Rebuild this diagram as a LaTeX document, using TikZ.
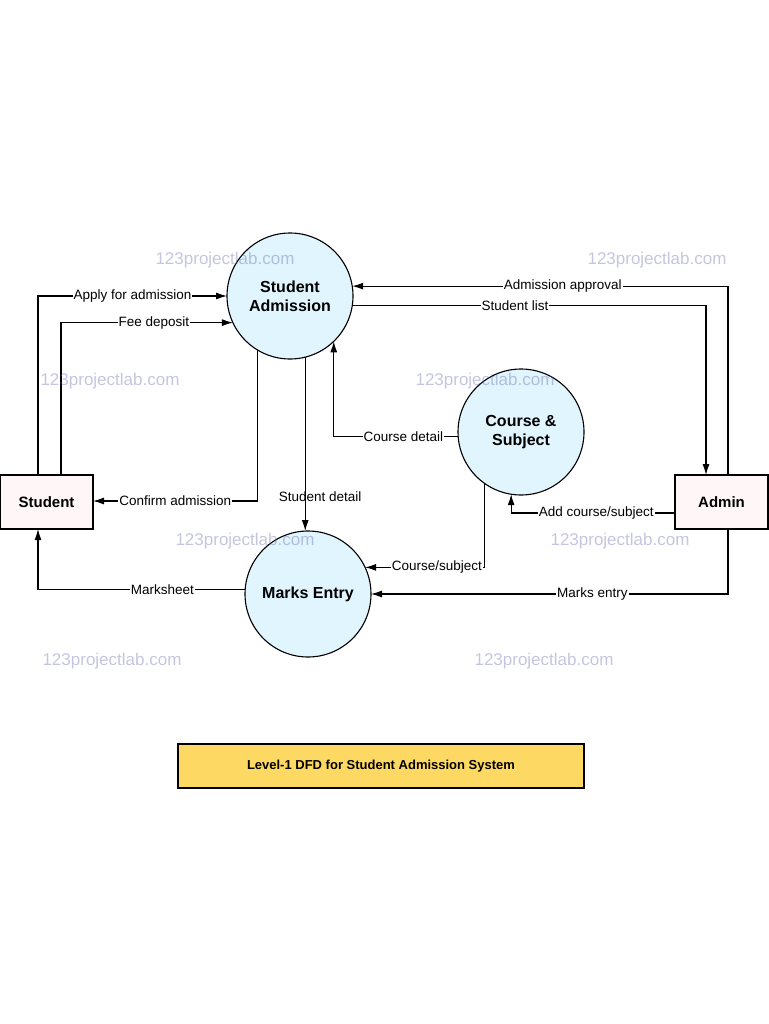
\documentclass[tikz,border=0pt]{standalone}
\usepackage{fontspec}
\setmainfont{Liberation Sans}
\usetikzlibrary{arrows.meta}
\begin{document}
\begin{tikzpicture}[x=1pt,y=-1pt,
  proc/.style={circle,draw,line width=1.1pt,fill=cyan!12,minimum size=126pt,inner sep=0,outer sep=0,font=\bfseries\fontsize{16}{19}\selectfont,align=center},
  ent/.style={draw,line width=1.1pt,fill=red!3,minimum width=93pt,minimum height=54pt,inner sep=0,outer sep=0,font=\bfseries\fontsize{15}{18}\selectfont},
  flow/.style={line width=1.1pt,-{Latex[length=11pt,width=7pt]}},
  lab/.style={fill=white,inner sep=1pt,font=\fontsize{13.5}{15}\selectfont},
  wm/.style={text=blue!30!gray,opacity=0.35,font=\fontsize{17}{19}\selectfont}]
\useasboundingbox (0,0) rectangle (768,1024);
\node[proc] (sa) at (290,296) {Student\\Admission};
\node[proc] (cs) at (521,432) {Course \&\\Subject};
\node[proc] (me) at (308,594) {Marks Entry};
\node[ent,anchor=north west] (st) at (0,475) {Student};
\node[ent,anchor=north east] (ad) at (768,475) {Admin};
\coordinate (s1) at (38,475);
\coordinate (s2) at (61,475);
\draw[flow] (s1) |- node[lab,pos=0.75]{Apply for admission} (sa.180);
\draw[flow] (s2) |- node[lab,pos=0.77]{Fee deposit} (sa.205);
\draw[flow] (sa.239.5) |- node[lab,pos=0.75]{Confirm admission} (st.east |- 0,501);
\draw[flow] (sa.284.7) -- node[lab,pos=0.8,right,xshift=-28pt,fill=none]{Student detail} (me.north -| sa.284.7);
\draw[flow] (cs.184) -| node[lab,pos=0.22]{Course detail} (sa.314.3);
\draw[flow] (ad.north -| 728,0) |- node[lab,pos=0.72]{Admission approval} (sa.9);
\draw[flow] (sa.351) -| node[lab,pos=0.23]{Student list} (ad.north -| 706,0);
\draw[flow] (ad.west |- 0,513) -| node[lab,pos=0.24]{Add course/subject} (cs.261.7);
\draw[flow] (cs.235.6) |- node[lab,pos=0.7]{Course/subject} (me.25.8);
\draw[flow] (ad.south -| 728,0) |- node[lab,pos=0.69]{Marks entry} (me.0);
\draw[flow] (me.176) -| node[lab,pos=0.2]{Marksheet} (st.south -| 38,0);
\node[draw,line width=1.1pt,fill=yellow!55!orange!60,minimum width=406pt,minimum height=44pt,font=\bfseries\fontsize{13}{15}\selectfont] (t) at (381,766) {Level-1 DFD for Student Admission System};
\foreach \x/\y in {225/260,110/381,485/381,657/260,245/541,620/541,112/661,544/661}
  \node[wm] at (\x,\y) {123projectlab.com};
\end{tikzpicture}
\end{document}
